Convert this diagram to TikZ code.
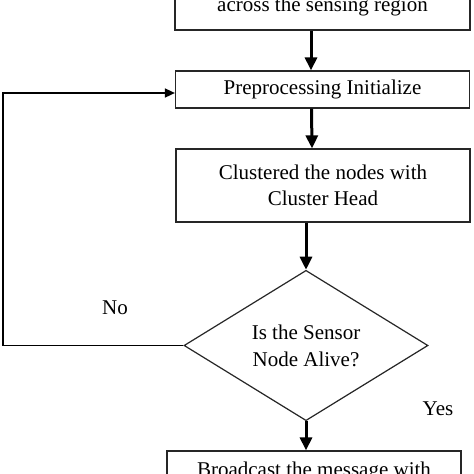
\documentclass[tikz,border=0pt]{standalone}
\usepackage{fontspec}
\setmainfont{Liberation Serif}
\usetikzlibrary{arrows.meta,shapes.geometric}
\begin{document}
\begin{tikzpicture}[x=1pt,y=-1pt,
  box/.style={draw=black!85,line width=1.2pt,rectangle,inner sep=0pt},
  txt/.style={font=\fontsize{21}{26.5}\selectfont,align=center,inner sep=0pt},
  dec/.style={draw=black!85,line width=1.2pt,diamond,inner sep=0pt,minimum width=244pt,minimum height=123pt,font=\fontsize{21}{27}\selectfont,align=center},
  arr/.style={line width=3pt,-{Triangle[width=12pt,length=13pt]}},
  fb/.style={line width=1.6pt,-{Triangle[width=9pt,length=10pt]}}
]
\useasboundingbox (0,0) rectangle (474,474);
\fill[white] (0,0) rectangle (474,474);
% top box (cut off at the top)
\node[box,minimum width=295pt,minimum height=60pt] (top) at (322.5,0) {};
\node[txt,anchor=base] (toptxt) at (322.5,11) {across the sensing region};
% preprocessing
\node[box,txt,minimum width=294pt,minimum height=37pt] (pre) at (322.5,89.5) {Preprocessing Initialize};
% clustered
\node[box,txt,minimum width=294pt,minimum height=73pt] (clu) at (323,185.5) {Clustered the nodes with\\Cluster Head};
% decision
\node[dec] (dec) at (306,345.5) {Is the Sensor\\Node Alive?};
% bottom box (cut off)
\node[box,minimum width=294pt,minimum height=60pt] (bot) at (314,481) {};
\node[txt,anchor=base] (bottxt) at (314,476) {Broadcast the message with};
% labels
\node[txt] (no) at (115,308) {No};
\node[txt] (yes) at (438,409) {Yes};
% connectors
\draw[arr] ([xshift=-11.5pt]top.south) -- ([xshift=-11.5pt]pre.north);
\draw[arr] ([xshift=-11pt]pre.south) -- ([xshift=-11pt]clu.north);
\draw[arr] (clu.south -| dec.north) -- (dec.north);
\draw[arr] (dec.south) -- (dec.south |- bot.north);
\coordinate (fbc) at (3,345.5);
\draw[fb] (dec.west) -- (fbc) |- ([yshift=-3.5pt]pre.west);
\end{tikzpicture}
\end{document}
